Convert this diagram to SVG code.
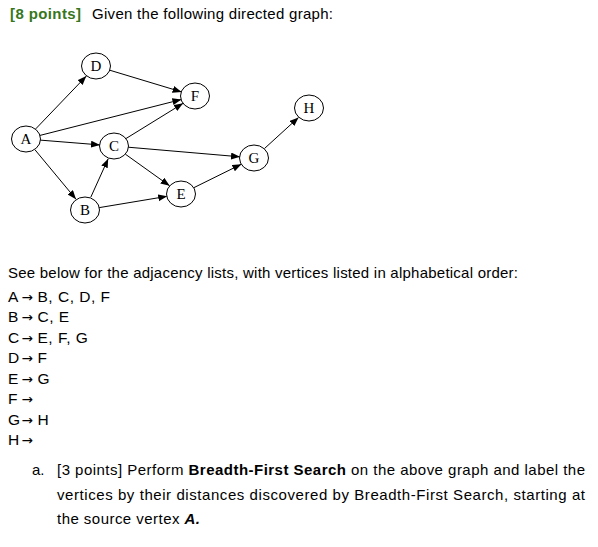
<svg xmlns="http://www.w3.org/2000/svg" width="598" height="547" viewBox="0 0 598 547">
<style>
.t{font-family:"Liberation Sans",Arial,sans-serif;font-size:15px;fill:#000}
.l{font-family:"Liberation Sans",Arial,sans-serif;font-size:15.5px;letter-spacing:0.5px;fill:#000}
.ar{font-family:"DejaVu Sans",sans-serif;font-size:13.5px;letter-spacing:0}
.b{font-weight:bold}
.g{fill:#38761d;font-weight:bold}
.n ellipse{fill:#fff;stroke:#000;stroke-width:1}
.n text{font-family:"Liberation Serif","Times New Roman",serif;font-size:15px;text-anchor:middle;fill:#000}
.e line{stroke:#000;stroke-width:1;marker-end:url(#ah)}
</style>
<defs>
<marker id="ah" markerUnits="userSpaceOnUse" markerWidth="10" markerHeight="8" refX="9" refY="3.5" orient="auto">
<path d="M0,0 L9,3.5 L0,7 z" fill="#000"/>
</marker>
</defs>
<rect width="598" height="547" fill="#fff"/>
<text class="t g" x="10" y="19" textLength="71" lengthAdjust="spacing">[8 points]</text>
<text class="t" x="92" y="19" textLength="241" lengthAdjust="spacing">Given the following directed graph:</text>
<g id="edges" class="e">
<line x1="35.7" y1="128.9" x2="86.3" y2="76.1"/>
<line x1="39.6" y1="135.5" x2="181.4" y2="99.5"/>
<line x1="40" y1="140.1" x2="100" y2="144.9"/>
<line x1="35" y1="149.8" x2="76" y2="199.2"/>
<line x1="109.4" y1="70.1" x2="181.6" y2="91.9"/>
<line x1="125.9" y1="138.6" x2="183.1" y2="103.3"/>
<line x1="128" y1="147.2" x2="240" y2="156.8"/>
<line x1="125.4" y1="154.2" x2="169.6" y2="185.8"/>
<line x1="90.8" y1="197.2" x2="108.2" y2="158.7"/>
<line x1="98.8" y1="207.7" x2="167.2" y2="196.3"/>
<line x1="193.6" y1="187.8" x2="241.4" y2="164.2"/>
<line x1="264.4" y1="148.6" x2="298.6" y2="117.4"/>
</g>
<g id="A" class="n"><ellipse cx="26" cy="139" rx="14.5" ry="13"/><text x="26" y="144">A</text></g>
<g id="D" class="n"><ellipse cx="96" cy="66" rx="14.5" ry="13"/><text x="96" y="71">D</text></g>
<g id="F" class="n"><ellipse cx="195" cy="96" rx="14.5" ry="13"/><text x="195" y="101">F</text></g>
<g id="C" class="n"><ellipse cx="114" cy="146" rx="14.5" ry="13"/><text x="114" y="151">C</text></g>
<g id="G" class="n"><ellipse cx="254" cy="158" rx="14.5" ry="13"/><text x="254" y="163">G</text></g>
<g id="H" class="n"><ellipse cx="309" cy="108" rx="14.5" ry="13"/><text x="309" y="113">H</text></g>
<g id="E" class="n"><ellipse cx="181" cy="194" rx="14.5" ry="13"/><text x="181" y="199">E</text></g>
<g id="B" class="n"><ellipse cx="85" cy="210" rx="14.5" ry="13"/><text x="85" y="215">B</text></g>
<text class="t" x="8" y="278" textLength="510" lengthAdjust="spacing">See below for the adjacency lists, with vertices listed in alphabetical order:</text>
<text class="l" y="302"><tspan x="8">A</tspan><tspan class="ar" x="21.5">→</tspan><tspan x="37.5">B, C, D, F</tspan></text>
<text class="l" y="322"><tspan x="8">B</tspan><tspan class="ar" x="21.5">→</tspan><tspan x="37.5">C, E</tspan></text>
<text class="l" y="343"><tspan x="8">C</tspan><tspan class="ar" x="21.5">→</tspan><tspan x="37.5">E, F, G</tspan></text>
<text class="l" y="363"><tspan x="8">D</tspan><tspan class="ar" x="21.5">→</tspan><tspan x="37.5">F</tspan></text>
<text class="l" y="384"><tspan x="8">E</tspan><tspan class="ar" x="21.5">→</tspan><tspan x="37.5">G</tspan></text>
<text class="l" y="404"><tspan x="8">F</tspan><tspan class="ar" x="21.5">→</tspan></text>
<text class="l" y="425"><tspan x="8">G</tspan><tspan class="ar" x="21.5">→</tspan><tspan x="37.5">H</tspan></text>
<text class="l" y="445"><tspan x="8">H</tspan><tspan class="ar" x="21.5">→</tspan></text>
<text class="t" x="32" y="475">a.</text>
<text class="t" x="57" y="475" textLength="528" lengthAdjust="spacing">[3 points] Perform <tspan class="b">Breadth-First Search</tspan> on the above graph and label the</text>
<text class="t" x="57" y="500" textLength="528" lengthAdjust="spacing">vertices by their distances discovered by Breadth-First Search, starting at</text>
<text class="t" x="57" y="524" textLength="143" lengthAdjust="spacing">the source vertex <tspan class="b" font-style="italic">A.</tspan></text>
</svg>
